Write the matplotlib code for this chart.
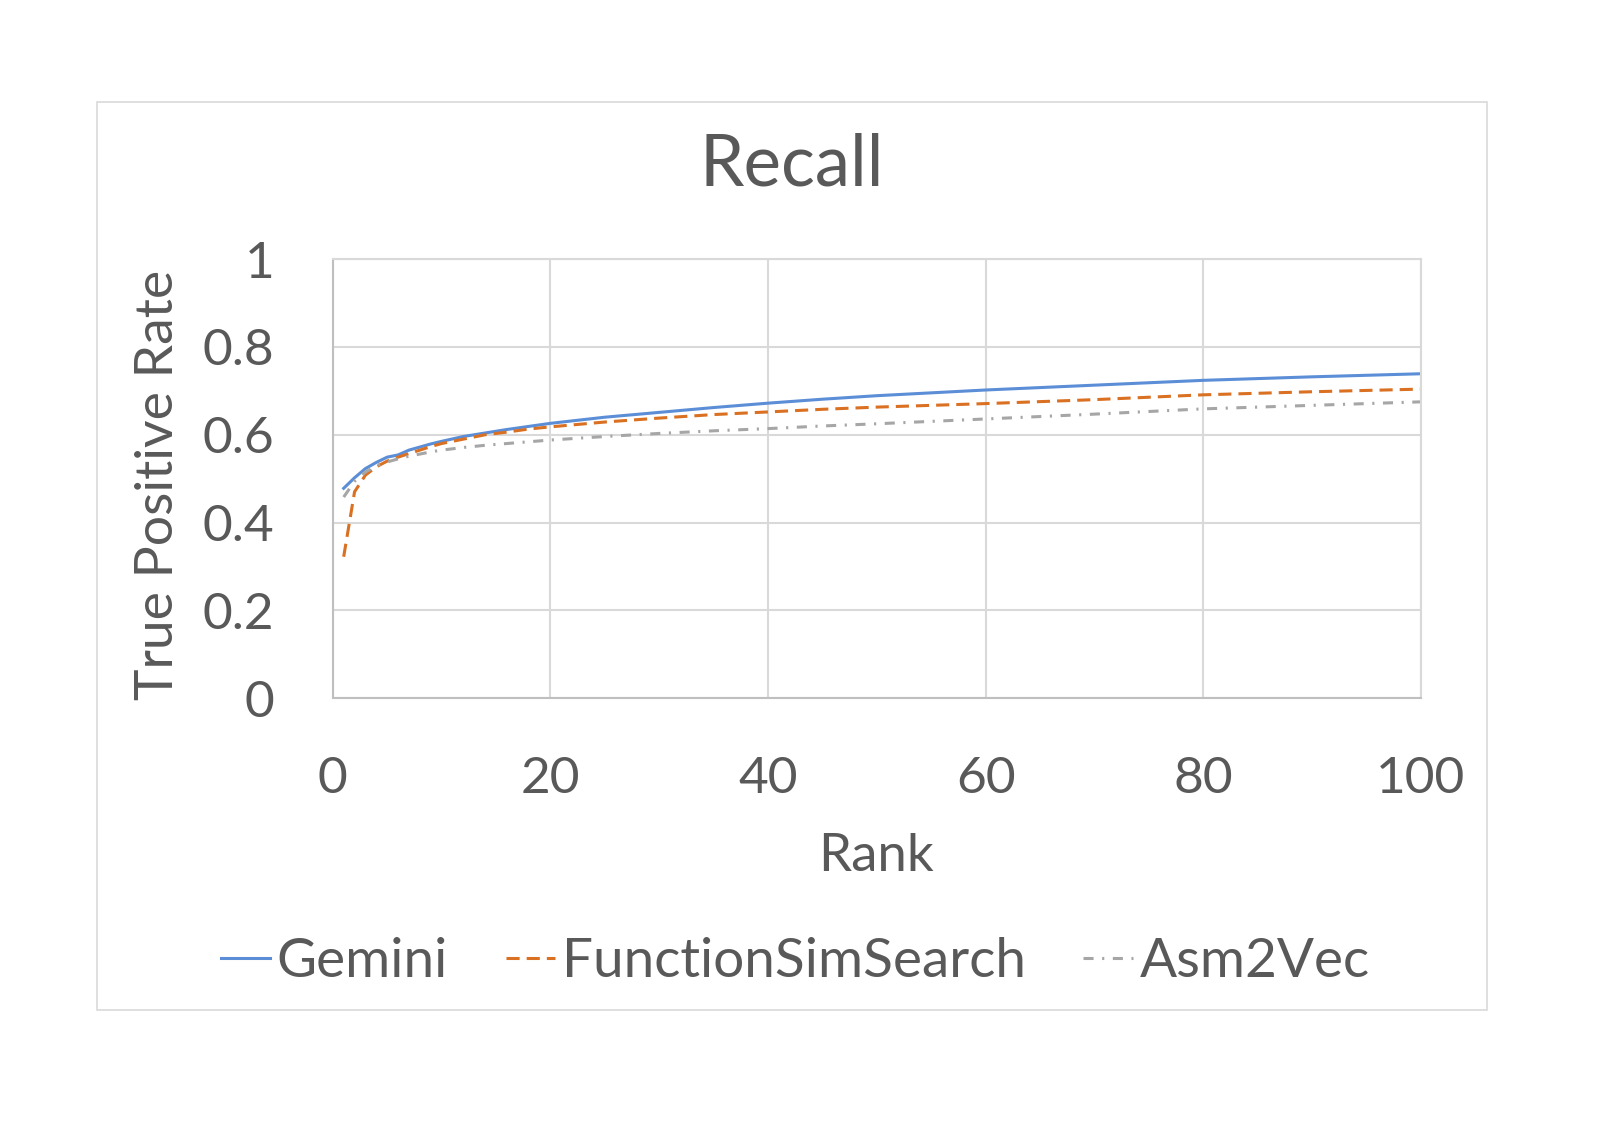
import matplotlib
matplotlib.use("Agg")
import matplotlib.pyplot as plt
from matplotlib.patches import Rectangle

# values (rank -> true positive rate)
ranks = [1, 2, 3, 4, 5, 6, 7, 8, 9, 10, 12, 14, 16, 18, 20, 25, 30, 35, 40,
         45, 50, 60, 70, 80, 90, 100]
gemini = [0.478, 0.502, 0.523, 0.537, 0.549, 0.554, 0.565, 0.572, 0.579, 0.585,
          0.596, 0.604, 0.612, 0.619, 0.626, 0.640, 0.651, 0.662, 0.672,
          0.681, 0.689, 0.702, 0.713, 0.724, 0.732, 0.739]
funcsim = [0.322, 0.470, 0.508, 0.527, 0.540, 0.549, 0.557, 0.565, 0.573, 0.580,
           0.590, 0.600, 0.606, 0.613, 0.618, 0.629, 0.638, 0.646, 0.652,
           0.658, 0.663, 0.671, 0.680, 0.691, 0.698, 0.704]
asm2vec = [0.458, 0.494, 0.515, 0.530, 0.538, 0.545, 0.551, 0.556, 0.561, 0.565,
           0.571, 0.576, 0.580, 0.584, 0.588, 0.596, 0.603, 0.609, 0.614,
           0.620, 0.625, 0.636, 0.647, 0.659, 0.667, 0.675]
labels = ["Gemini", "FunctionSimSearch", "Asm2Vec"]
xticks = [0, 20, 40, 60, 80, 100]
yticks = [0, 0.2, 0.4, 0.6, 0.8, 1]

plt.rcParams['font.family'] = ['Lato', 'DejaVu Sans']
txt = '#595959'
grid_c = '#D9D9D9'

fig = plt.figure(figsize=(16, 11.31), dpi=100)
fig.patches.append(Rectangle((0.0606, 0.107), 0.869, 0.803, transform=fig.transFigure,
                             fill=False, edgecolor=grid_c, lw=1.2))

ax = fig.add_axes([0.208, 0.3828, 0.680, 0.388])
ax.plot(ranks, gemini, color='#5B8ED6', lw=2.2, label=labels[0])
ax.plot(ranks, funcsim, color='#DA7021', lw=2.2, dashes=(4.3, 2.3), label=labels[1])
ax.plot(ranks, asm2vec, color='#A6A6A6', lw=2.2, dashes=(3.3, 2.8, 0.7, 2.8), label=labels[2])

ax.set_xlim(0, 100)
ax.set_ylim(0, 1)
ax.set_xticks(xticks)
ax.set_yticks(yticks)
ax.set_xticklabels([str(v) for v in xticks])
ax.set_yticklabels(['0', '0.2', '0.4', '0.6', '0.8', '1'])
ax.grid(True, color=grid_c, lw=1.5)
ax.set_axisbelow(True)
for s in ax.spines.values():
    s.set_color(grid_c)
    s.set_linewidth(1.5)
ax.spines['left'].set_color('#BFBFBF')
ax.spines['bottom'].set_color('#BFBFBF')
ax.tick_params(length=0, labelsize=37, colors=txt)
ax.tick_params(axis='x', pad=42)
ax.tick_params(axis='y', pad=42)

fig.text(0.495, 0.854, "Recall", ha='center', va='center', fontsize=51, color=txt)
fig.text(0.099, 0.571, "True Positive Rate", ha='center', va='center', rotation=90,
         fontsize=38.5, color=txt)
fig.text(0.5475, 0.2423, "Rank", ha='center', va='center', fontsize=38, color=txt)

fig.legend(loc='center', bbox_to_anchor=(0.497, 0.150), ncol=3, frameon=False,
           fontsize=39.5, labelcolor=txt, handlelength=0.9, handletextpad=0.12,
           columnspacing=1.05)

fig.savefig("out.png", dpi=100, facecolor='white')
